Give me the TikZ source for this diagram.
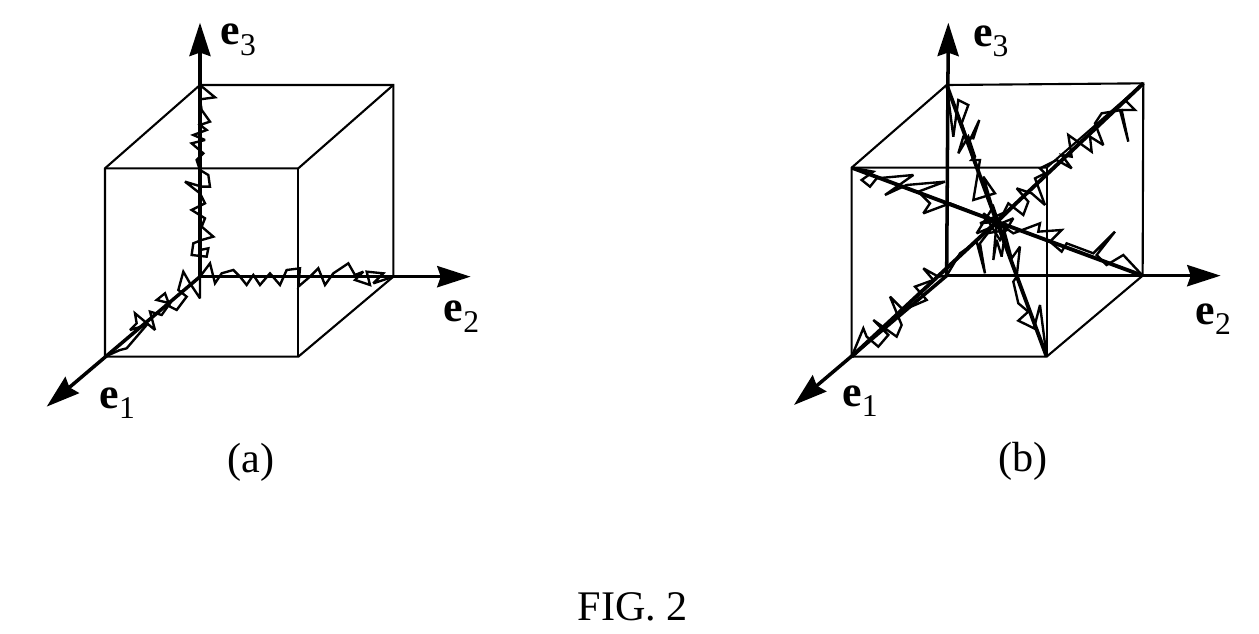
\documentclass[tikz,border=0pt]{standalone}
\usepackage{fontspec}
\setmainfont{Liberation Serif}
\usetikzlibrary{arrows.meta}
\newcommand{\basis}[1]{\fontsize{25}{25}\selectfont\textbf{e}\raisebox{-6pt}{\fontsize{18}{18}\selectfont #1}}

\begin{document}
\begin{tikzpicture}[
        x=.02cm, y=-.02cm,
        axis/.style={line width=2pt, -{Stealth[length=19pt,width=12pt,inset=2pt]}},
        cube/.style={line width=1.2pt},
        walk/.style={line width=1.35pt, line join=miter, miter limit=3},
        arm/.style={line width=2.2pt},
        basis label/.style={inner sep=0pt},
        caption/.style={font=\fontsize{24}{24}\selectfont, inner sep=0pt},
      ]
      \useasboundingbox (0,0) rectangle (1259,633);

      % panel (a)
      \begin{scope}[shift={(30,10)}, x=.02cm/3, y=-.02cm/3]
      \coordinate (O) at (510,800);
      \coordinate (A) at (225,1040);
      \coordinate (B) at (805,1040);
      \coordinate (C) at (1090,800);
      \coordinate (D) at (225,475);
      \coordinate (E) at (805,475);
      \coordinate (F) at (1090,225);
      \coordinate (G) at (510,225);
      \coordinate (X) at (50,1190);
      \coordinate (Y) at (1322,800);
      \coordinate (Z) at (510,38);
      \draw[cube] (A) -- (B) -- (C) -- (F) -- (G) -- (D) -- (A);
      \draw[cube] (D) -- (E) -- (F);
      \draw[cube] (E) -- (B);
      \draw[axis] (O) -- (X);
      \draw[axis] (O) -- (Y);
      \draw[axis] (O) -- (Z);
      \draw[walk] (G) -- (555,262) -- (510,268) -- (515,300) -- (540,335) -- (510,345) -- (530,360) -- (490,375) -- (525,390) -- (485,400) -- (520,430) -- (500,450) -- (510,480) -- (535,495) -- (540,530) -- (515,530) -- (465,515) -- (510,550) -- (525,580) -- (485,600) -- (525,625) -- (515,650) -- (550,680) -- (515,690) -- (490,700) -- (485,735) -- (530,740) -- (535,715) -- (510,720) -- (O);
      \draw[walk] (O) -- (540,760) -- (555,820) -- (575,790) -- (610,780) -- (630,800) -- (650,825) -- (670,795) -- (690,825) -- (720,790) -- (750,825) -- (770,780) -- (810,775) -- (805,830) -- (840,800) -- (865,775) -- (885,825) -- (910,790) -- (955,760) -- (975,795) -- (1000,785) -- (975,810) -- (1020,825) -- (1010,785) -- (1060,790) -- (1030,820) -- (C);
      \draw[walk] (O) -- (510,865) -- (480,820) -- (460,785) -- (445,840) -- (470,860) -- (440,900) -- (420,890) -- (405,850) -- (380,870) -- (420,880) -- (395,915) -- (360,905) -- (375,960) -- (345,935) -- (315,910) -- (320,940) -- (300,960) -- (350,945) -- (290,1015) -- (270,1020) -- (A);
      \node[basis label] (e1a) at (262,1180) {\basis{1}};
      \node[basis label] (e2a) at (1295,920) {\basis{2}};
      \node[basis label] (e3a) at (625,90) {\basis{3}};
      \end{scope}

      % panel (b)
      \begin{scope}[shift={(780,10)}, x=.02cm/3, y=-.02cm/3]
      \coordinate (O) at (500,797);
      \coordinate (A) at (215,1040);
      \coordinate (B) at (800,1040);
      \coordinate (C) at (1088,797);
      \coordinate (D) at (215,473);
      \coordinate (E) at (800,473);
      \coordinate (F) at (1090,220);
      \coordinate (G) at (500,225);
      \coordinate (M) at (650,635);
      \coordinate (X) at (42,1185);
      \coordinate (Y) at (1322,797);
      \coordinate (Z) at (505,38);
      \draw[cube] (A) -- (B) -- (C) -- (F) -- (G) -- (D) -- (A);
      \draw[cube] (D) -- (E) -- (F);
      \draw[cube] (E) -- (B);
      \draw[axis] (O) -- (X);
      \draw[axis] (O) -- (Y);
      \draw[axis] (O) -- (Z);
      \draw[arm] (G) -- (M) -- (C);
      \draw[arm] (D) -- (M) -- (B);
      \draw[arm] (A) -- (M) -- (F);
      \draw[walk] (G) -- (520,380) -- (535,270) -- (565,285) -- (545,340) -- (565,400) -- (598,330) -- (580,385) -- (550,380) -- (535,430) -- (565,380) -- (585,440) -- (575,450) -- (600,450) -- (590,510) -- (580,570) -- (645,550) -- (610,500) -- (M);
      \draw[walk] (D) -- (280,485) -- (245,510) -- (270,530) -- (290,505) -- (400,495) -- (315,555) -- (380,525) -- (495,515) -- (415,545) -- (450,580) -- (430,610) -- (510,580) -- (M);
      \draw[walk] (F) -- (1035,270) -- (1065,300) -- (1020,300) -- (1045,395) -- (1025,300) -- (965,310) -- (945,340) -- (970,405) -- (930,380) -- (935,425) -- (900,400) -- (865,375) -- (875,440) -- (845,435) -- (875,475) -- (830,450) -- (780,475) -- (795,490) -- (765,505) -- (795,585) -- (755,550) -- (710,535) -- (745,575) -- (730,615) -- (685,580) -- (670,610) -- (M);
      \draw[walk] (C) -- (1030,735) -- (980,765) -- (950,735) -- (1005,665) -- (940,730) -- (860,700) -- (845,725) -- (810,695) -- (845,660) -- (775,665) -- (780,640) -- (700,670) -- (M);
      \draw[walk] (B) -- (780,885) -- (762,955) -- (715,932) -- (745,905) -- (715,880) -- (700,815) -- (710,800) -- (720,710) -- (695,745) -- (675,670) -- (665,740) -- (650,690) -- (640,750) -- (M);
      \draw[walk] (A) -- (250,955) -- (260,980) -- (295,1010) -- (325,975) -- (280,930) -- (350,980) -- (365,945) -- (330,860) -- (370,900) -- (440,870) -- (405,830) -- (460,810) -- (430,775) -- (475,800) -- (O);
      \draw[walk] (O) -- (540,730) -- (590,695) -- (615,790) -- (600,700) -- (M);
      % knot at the middle
      \draw[walk] (M) -- (600,640) -- (690,600) -- (620,670) -- (680,660) -- (610,610) -- (660,690) -- (700,625) -- (590,670) -- (640,590) -- (670,680) -- (M);
      \node[basis label] (e1b) at (240,1174) {\basis{1}};
      \node[basis label] (e2b) at (1300,927) {\basis{2}};
      \node[basis label] (e3b) at (632,94) {\basis{3}};
      \end{scope}

      \node[caption] (capa) at (251,462) {(a)};
      \node[caption] (capb) at (1023,461) {(b)};
      \node[caption] (fig) at (633,607) {FIG. 2};
    \end{tikzpicture}
\end{document}
